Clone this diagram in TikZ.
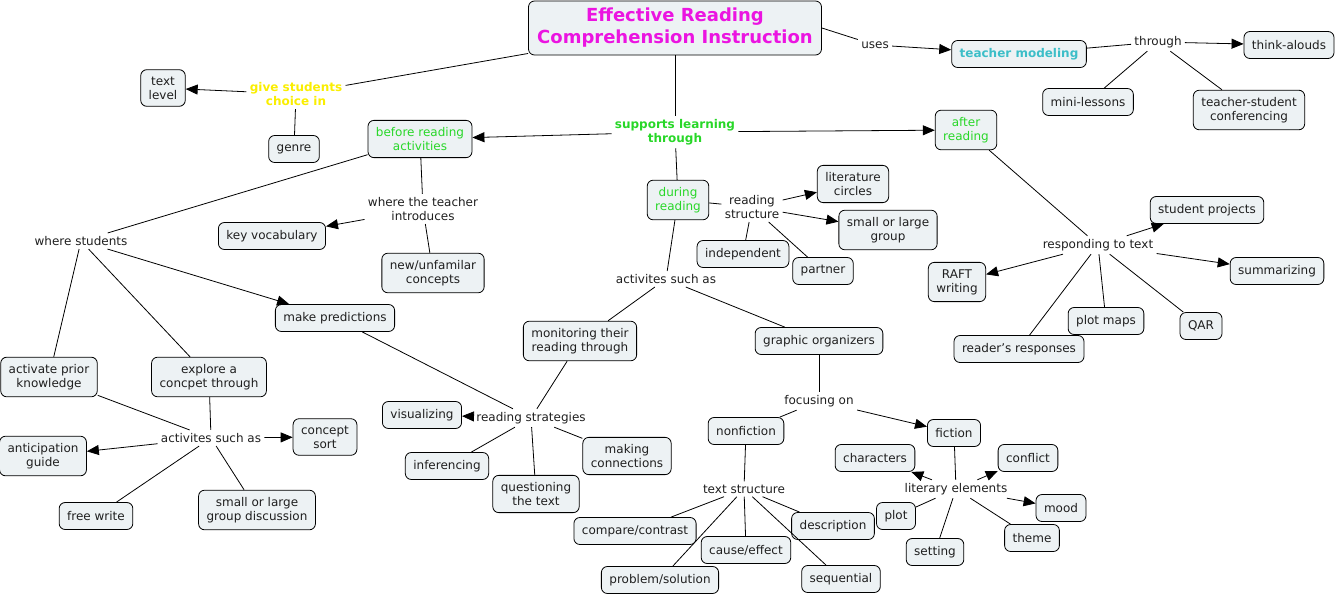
\documentclass[tikz,border=0pt]{standalone}
\usepackage{fontspec}
\setmainfont{DejaVu Sans}
\usetikzlibrary{arrows.meta}

\definecolor{boxfill}{RGB}{237,242,244}
\definecolor{titlemag}{RGB}{235,20,225}
\definecolor{phrgreen}{RGB}{40,215,40}
\definecolor{phryellow}{RGB}{250,238,0}
\definecolor{modcyan}{RGB}{60,190,200}

\newcommand{\mapfont}{\fontsize{12}{14}\selectfont}
\newcommand{\titlefont}{\fontsize{18}{22}\selectfont\bfseries}

\begin{document}
\begin{tikzpicture}[x=1pt, y=-1pt, line width=0.8pt]
    \tikzset{
        concept/.style={
                draw=black, fill=boxfill, rounded corners=6pt,
                align=center, font=\mapfont, text=black!88,
                inner xsep=8pt, inner ysep=7pt, minimum height=27pt
            },
        phrase/.style={
                align=center, font=\mapfont, text=black!88, inner sep=3pt
            },
        arr/.style={-{Triangle[length=12pt, width=10pt]}}
    }
    \useasboundingbox (0,0) rectangle (1336,597);

    % --- top ---
    \node[concept, font=\titlefont, text=titlemag, minimum width=293pt, minimum height=54pt] (title) at (675,28) {Effective Reading\\Comprehension Instruction};
    \node[phrase, font=\mapfont\bfseries, text=phryellow] (give) at (296,94) {give students\\choice in};
    \node[concept] (textlevel) at (163,88) {text\\level};
    \node[concept] (genre) at (294,149) {genre};

    \node[phrase] (uses) at (875,45) {uses};
    \node[concept, font=\mapfont\bfseries, text=modcyan] (modeling) at (1019,54) {teacher modeling};
    \node[phrase] (through) at (1158,42) {through};
    \node[concept] (think) at (1289,45) {think-alouds};
    \node[concept] (mini) at (1088,102) {mini-lessons};
    \node[concept] (conf) at (1249,110) {teacher-student\\conferencing};

    \node[phrase, font=\mapfont\bfseries, text=phrgreen] (supports) at (675,132) {supports learning\\through};
    \node[concept, text=phrgreen] (before) at (420,139) {before reading\\activities};
    \node[concept, text=phrgreen] (during) at (678,200) {during\\reading};
    \node[concept, text=phrgreen] (after) at (966,130) {after\\reading};

    % --- before reading ---
    \node[phrase] (teacherintro) at (423,209) {where the teacher\\introduces};
    \node[concept] (vocab) at (272,236) {key vocabulary};
    \node[concept] (newconc) at (433,273) {new/unfamilar\\concepts};
    \node[phrase] (wherestud) at (81,241) {where students};
    \node[concept] (predict) at (335,318) {make predictions};
    \node[concept] (prior) at (49,377) {activate prior\\knowledge};
    \node[concept] (explore) at (209,377) {explore a\\concpet through};
    \node[phrase] (actleft) at (211,438) {activites such as};
    \node[concept] (anticip) at (43,456) {anticipation\\guide};
    \node[concept] (sort) at (325,437) {concept\\sort};
    \node[concept] (freewrite) at (96,516) {free write};
    \node[concept] (discuss) at (257,510) {small or large\\group discussion};

    % --- during reading ---
    \node[phrase] (readstruct) at (752,207) {reading\\structure};
    \node[concept] (litcircle) at (853,184) {literature\\circles};
    \node[concept] (smallgroup) at (888,230) {small or large\\group};
    \node[concept] (indep) at (743,254) {independent};
    \node[concept] (partner) at (823,271) {partner};
    \node[phrase] (actmid) at (666,279) {activites such as};
    \node[concept] (monitor) at (580,341) {monitoring their\\reading through};
    \node[concept] (graphic) at (819,341) {graphic organizers};
    \node[phrase] (readstrat) at (531,418) {reading strategies};
    \node[concept] (visual) at (422,415) {visualizing};
    \node[concept] (infer) at (447,466) {inferencing};
    \node[concept] (question) at (536,494) {questioning\\the text};
    \node[concept] (connect) at (627,456) {making\\connections};
    \node[phrase] (focus) at (819,401) {focusing on};
    \node[concept] (nonfic) at (746,431) {nonfiction};
    \node[concept] (fiction) at (954,433) {fiction};
    \node[phrase] (textstruct) at (744,489) {text structure};
    \node[concept] (compare) at (635,531) {compare/contrast};
    \node[concept] (cause) at (746,550) {cause/effect};
    \node[concept] (descr) at (833,526) {description};
    \node[concept] (problem) at (660,580) {problem/solution};
    \node[concept] (sequen) at (841,579) {sequential};
    \node[phrase] (litel) at (956,489) {literary elements};
    \node[concept] (charac) at (875,458) {characters};
    \node[concept] (conflict) at (1028,458) {conflict};
    \node[concept] (plot) at (896,516) {plot};
    \node[concept] (mood) at (1061,508) {mood};
    \node[concept] (theme) at (1032,538) {theme};
    \node[concept] (setting) at (935,552) {setting};

    % --- after reading ---
    \node[phrase] (respond) at (1098,245) {responding to text};
    \node[concept] (projects) at (1207,210) {student projects};
    \node[concept] (summar) at (1277,271) {summarizing};
    \node[concept] (raft) at (957,282) {RAFT\\writing};
    \node[concept] (plotmaps) at (1106,321) {plot maps};
    \node[concept] (qar) at (1201,326) {QAR};
    \node[concept] (readresp) at (1019,349) {reader's responses};

    % connectors
    \draw (title) -- (give);
    \draw[arr] (give) -- (textlevel);
    \draw (give) -- (genre);
    \draw (title.east) -- (uses);
    \draw[arr] (uses) -- (modeling);
    \draw (modeling) -- (through);
    \draw[arr] (through) -- (think);
    \draw (through) -- (mini);
    \draw (through) -- (conf);
    \draw (title) -- (supports);
    \draw[arr] (supports) -- (before);
    \draw[arr] (supports) -- (after);
    \draw (supports) -- (during);

    \draw (before) -- (teacherintro);
    \draw[arr] (teacherintro) -- (vocab);
    \draw (teacherintro) -- (newconc);
    \draw (before) -- (wherestud);
    \draw[arr] (wherestud) -- (predict);
    \draw (wherestud) -- (prior);
    \draw (wherestud) -- (explore);
    \draw (prior) -- (actleft);
    \draw (explore) -- (actleft);
    \draw[arr] (actleft) -- (anticip);
    \draw[arr] (actleft) -- (sort);
    \draw (actleft) -- (freewrite);
    \draw (actleft) -- (discuss);

    \draw (during) -- (readstruct);
    \draw[arr] (readstruct) -- (litcircle);
    \draw[arr] (readstruct) -- (smallgroup);
    \draw (readstruct) -- (indep);
    \draw (readstruct) -- (partner);
    \draw (during) -- (actmid);
    \draw (actmid) -- (monitor);
    \draw (actmid) -- (graphic);
    \draw (predict) -- (readstrat);
    \draw (monitor) -- (readstrat);
    \draw[arr] (readstrat) -- (visual);
    \draw (readstrat) -- (infer);
    \draw (readstrat) -- (question);
    \draw (readstrat) -- (connect);
    \draw (graphic) -- (focus);
    \draw (focus) -- (nonfic);
    \draw[arr] (focus) -- (fiction);
    \draw (nonfic) -- (textstruct);
    \draw (textstruct) -- (compare);
    \draw (textstruct) -- (cause);
    \draw (textstruct) -- (descr);
    \draw (textstruct) -- (problem);
    \draw (textstruct) -- (sequen);
    \draw (fiction) -- (litel);
    \draw[arr] (litel) -- (charac);
    \draw[arr] (litel) -- (conflict);
    \draw[arr] (litel) -- (mood);
    \draw (litel) -- (plot);
    \draw (litel) -- (setting);
    \draw (litel) -- (theme);

    \draw (after) -- (respond);
    \draw[arr] (respond) -- (projects);
    \draw[arr] (respond) -- (summar);
    \draw[arr] (respond) -- (raft);
    \draw (respond) -- (readresp);
    \draw (respond) -- (plotmaps);
    \draw (respond) -- (qar);
\end{tikzpicture}
\end{document}
